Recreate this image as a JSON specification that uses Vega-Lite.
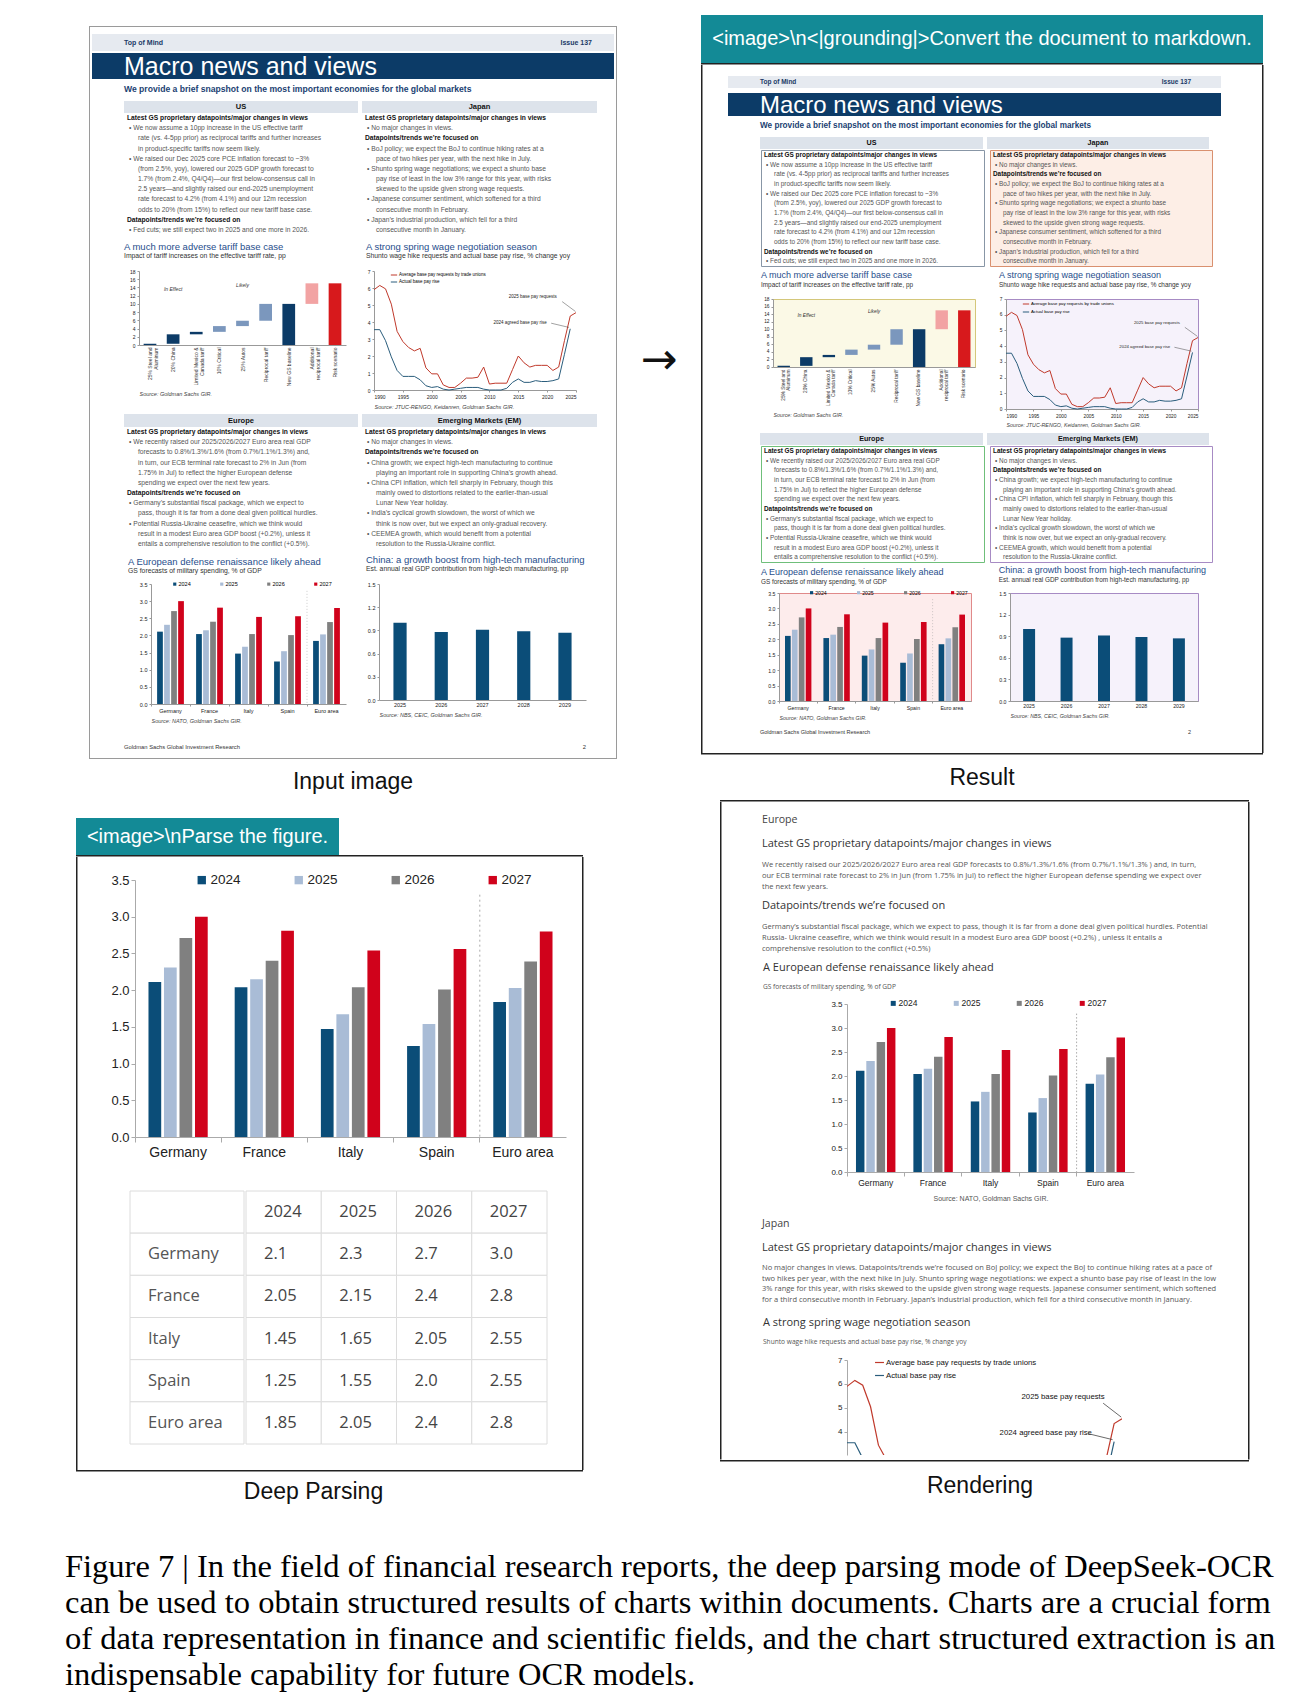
{
"$schema": "https://vega.github.io/schema/vega-lite/v6.json",
"background": "white",
"padding": {"left": 65, "top": 15, "right": 0, "bottom": 0},
"config": {
  "view": {"stroke": null},
  "font": "Liberation Sans",
  "axis": {"grid": false, "labelFont": "Liberation Sans", "titleFont": "Liberation Sans", "domainColor": "#999", "tickColor": "#999", "labelColor": "#222"},
  "legend": {"labelFont": "Liberation Sans", "padding": 0},
  "title": {"font": "Liberation Sans", "subtitleFont": "Liberation Sans"},
  "text": {"font": "Liberation Sans"}
},
"datasets": {
  "defense": [
    {"country":"Germany","year":"2024","value":2.11},{"country":"Germany","year":"2025","value":2.31},{"country":"Germany","year":"2026","value":2.71},{"country":"Germany","year":"2027","value":3.0},
    {"country":"France","year":"2024","value":2.04},{"country":"France","year":"2025","value":2.15},{"country":"France","year":"2026","value":2.4},{"country":"France","year":"2027","value":2.81},
    {"country":"Italy","year":"2024","value":1.47},{"country":"Italy","year":"2025","value":1.67},{"country":"Italy","year":"2026","value":2.04},{"country":"Italy","year":"2027","value":2.54},
    {"country":"Spain","year":"2024","value":1.24},{"country":"Spain","year":"2025","value":1.54},{"country":"Spain","year":"2026","value":2.01},{"country":"Spain","year":"2027","value":2.56},
    {"country":"Euro area","year":"2024","value":1.84},{"country":"Euro area","year":"2025","value":2.03},{"country":"Euro area","year":"2026","value":2.39},{"country":"Euro area","year":"2027","value":2.8}
  ],
  "table": [
    {"row":"hdr","col":"2024","cell":"2024"},{"row":"hdr","col":"2025","cell":"2025"},{"row":"hdr","col":"2026","cell":"2026"},{"row":"hdr","col":"2027","cell":"2027"},
    {"row":"Germany","col":"2024","cell":"2.1"},{"row":"Germany","col":"2025","cell":"2.3"},{"row":"Germany","col":"2026","cell":"2.7"},{"row":"Germany","col":"2027","cell":"3.0"},
    {"row":"France","col":"2024","cell":"2.05"},{"row":"France","col":"2025","cell":"2.15"},{"row":"France","col":"2026","cell":"2.4"},{"row":"France","col":"2027","cell":"2.8"},
    {"row":"Italy","col":"2024","cell":"1.45"},{"row":"Italy","col":"2025","cell":"1.65"},{"row":"Italy","col":"2026","cell":"2.05"},{"row":"Italy","col":"2027","cell":"2.55"},
    {"row":"Spain","col":"2024","cell":"1.25"},{"row":"Spain","col":"2025","cell":"1.55"},{"row":"Spain","col":"2026","cell":"2.0"},{"row":"Spain","col":"2027","cell":"2.55"},
    {"row":"Euro area","col":"2024","cell":"1.85"},{"row":"Euro area","col":"2025","cell":"2.05"},{"row":"Euro area","col":"2026","cell":"2.4"},{"row":"Euro area","col":"2027","cell":"2.8"}
  ],
  "tableLabels": [
    {"row":"hdr","name":""},{"row":"Germany","name":"Germany"},{"row":"France","name":"France"},{"row":"Italy","name":"Italy"},{"row":"Spain","name":"Spain"},{"row":"Euro area","name":"Euro area"}
  ],
  "tariff": [
    {"cat":"25% Steel and|Aluminum","lo":0,"hi":0.3,"kind":"in effect"},
    {"cat":"20% China","lo":0.3,"hi":2.6,"kind":"in effect"},
    {"cat":"Limited Mexico &|Canada tariff","lo":2.6,"hi":3.2,"kind":"in effect"},
    {"cat":"10% Critical","lo":3.2,"hi":4.6,"kind":"likely"},
    {"cat":"25% Autos","lo":4.6,"hi":5.9,"kind":"likely"},
    {"cat":"Reciprocal tariff","lo":5.9,"hi":10,"kind":"likely"},
    {"cat":"New GS baseline","lo":0,"hi":10,"kind":"baseline"},
    {"cat":"Additional|reciprocal tariff","lo":10,"hi":15,"kind":"additional"},
    {"cat":"Risk scenario","lo":0,"hi":15,"kind":"risk"}
  ],
  "tariffNotes": [{"cat":"20% China","v":13.6,"label":"In Effect"},{"cat":"25% Autos","v":14.6,"label":"Likely"}],
  "wage": [
    {"series":"Average base pay requests by trade unions","year":1990,"value":5.9},{"series":"Average base pay requests by trade unions","year":1991,"value":6.15},{"series":"Average base pay requests by trade unions","year":1992,"value":5.95},{"series":"Average base pay requests by trade unions","year":1993,"value":5.05},{"series":"Average base pay requests by trade unions","year":1994,"value":3.45},{"series":"Average base pay requests by trade unions","year":1995,"value":2.85},{"series":"Average base pay requests by trade unions","year":1996,"value":2.5},{"series":"Average base pay requests by trade unions","year":1997,"value":2.3},{"series":"Average base pay requests by trade unions","year":1998,"value":2.45},{"series":"Average base pay requests by trade unions","year":1999,"value":1.3},{"series":"Average base pay requests by trade unions","year":2000,"value":0.95},{"series":"Average base pay requests by trade unions","year":2001,"value":0.95},{"series":"Average base pay requests by trade unions","year":2002,"value":0.3},{"series":"Average base pay requests by trade unions","year":2003,"value":0.15},{"series":"Average base pay requests by trade unions","year":2004,"value":0.15},{"series":"Average base pay requests by trade unions","year":2005,"value":0.4},{"series":"Average base pay requests by trade unions","year":2006,"value":0.7},{"series":"Average base pay requests by trade unions","year":2007,"value":0.7},{"series":"Average base pay requests by trade unions","year":2008,"value":0.75},{"series":"Average base pay requests by trade unions","year":2009,"value":1.35},{"series":"Average base pay requests by trade unions","year":2010,"value":0.35},{"series":"Average base pay requests by trade unions","year":2011,"value":0.4},{"series":"Average base pay requests by trade unions","year":2012,"value":0.4},{"series":"Average base pay requests by trade unions","year":2013,"value":0.4},{"series":"Average base pay requests by trade unions","year":2014,"value":1.2},{"series":"Average base pay requests by trade unions","year":2015,"value":2.0},{"series":"Average base pay requests by trade unions","year":2016,"value":1.6},{"series":"Average base pay requests by trade unions","year":2017,"value":1.35},{"series":"Average base pay requests by trade unions","year":2018,"value":1.45},{"series":"Average base pay requests by trade unions","year":2019,"value":1.45},{"series":"Average base pay requests by trade unions","year":2020,"value":1.45},{"series":"Average base pay requests by trade unions","year":2021,"value":1.15},{"series":"Average base pay requests by trade unions","year":2022,"value":1.35},{"series":"Average base pay requests by trade unions","year":2023,"value":2.9},{"series":"Average base pay requests by trade unions","year":2024,"value":4.35},{"series":"Average base pay requests by trade unions","year":2025,"value":4.55},
    {"series":"Actual base pay rise","year":1990,"value":3.55},{"series":"Actual base pay rise","year":1991,"value":3.55},{"series":"Actual base pay rise","year":1992,"value":2.9},{"series":"Actual base pay rise","year":1993,"value":1.95},{"series":"Actual base pay rise","year":1994,"value":1.15},{"series":"Actual base pay rise","year":1995,"value":0.8},{"series":"Actual base pay rise","year":1996,"value":0.8},{"series":"Actual base pay rise","year":1997,"value":0.8},{"series":"Actual base pay rise","year":1998,"value":0.6},{"series":"Actual base pay rise","year":1999,"value":0.25},{"series":"Actual base pay rise","year":2000,"value":0.15},{"series":"Actual base pay rise","year":2001,"value":0.2},{"series":"Actual base pay rise","year":2002,"value":0.05},{"series":"Actual base pay rise","year":2003,"value":0.0},{"series":"Actual base pay rise","year":2004,"value":0.05},{"series":"Actual base pay rise","year":2005,"value":0.1},{"series":"Actual base pay rise","year":2006,"value":0.15},{"series":"Actual base pay rise","year":2007,"value":0.15},{"series":"Actual base pay rise","year":2008,"value":0.15},{"series":"Actual base pay rise","year":2009,"value":0.05},{"series":"Actual base pay rise","year":2010,"value":0.0},{"series":"Actual base pay rise","year":2011,"value":0.0},{"series":"Actual base pay rise","year":2012,"value":0.0},{"series":"Actual base pay rise","year":2013,"value":0.1},{"series":"Actual base pay rise","year":2014,"value":0.45},{"series":"Actual base pay rise","year":2015,"value":0.65},{"series":"Actual base pay rise","year":2016,"value":0.45},{"series":"Actual base pay rise","year":2017,"value":0.45},{"series":"Actual base pay rise","year":2018,"value":0.55},{"series":"Actual base pay rise","year":2019,"value":0.5},{"series":"Actual base pay rise","year":2020,"value":0.5},{"series":"Actual base pay rise","year":2021,"value":0.55},{"series":"Actual base pay rise","year":2022,"value":0.65},{"series":"Actual base pay rise","year":2023,"value":2.1},{"series":"Actual base pay rise","year":2024,"value":3.6}
  ],
  "wageNotes": [{"year":2017.5,"value":5.45,"label":"2025 base pay requests"},{"year":2015.3,"value":3.95,"label":"2024 agreed base pay rise"}],
  "wagePtr": [{"x1":2022.6,"y1":5.2,"x2":2024.9,"y2":4.62},{"x1":2020.7,"y1":3.93,"x2":2023.8,"y2":3.68}],
  "china": [{"year":"2025","value":1.0},{"year":"2026","value":0.88},{"year":"2027","value":0.91},{"year":"2028","value":0.89},{"year":"2029","value":0.87}],
  "docText": [
    {"sec":"US","line":1,"kind":"h","text":"Latest GS proprietary datapoints/major changes in views"},
    {"sec":"US","line":2,"kind":"b","text":"•  We now assume a 10pp increase in the US effective tariff"},
    {"sec":"US","line":3,"kind":"c","text":"rate (vs. 4-5pp prior) as reciprocal tariffs and further increases"},
    {"sec":"US","line":4,"kind":"c","text":"in product-specific tariffs now seem likely."},
    {"sec":"US","line":5,"kind":"b","text":"•  We raised our Dec 2025 core PCE inflation forecast to ~3%"},
    {"sec":"US","line":6,"kind":"c","text":"(from 2.5%, yoy), lowered our 2025 GDP growth forecast to"},
    {"sec":"US","line":7,"kind":"c","text":"1.7% (from 2.4%, Q4/Q4)—our first below-consensus call in"},
    {"sec":"US","line":8,"kind":"c","text":"2.5 years—and slightly raised our end-2025 unemployment"},
    {"sec":"US","line":9,"kind":"c","text":"rate forecast to 4.2% (from 4.1%) and our 12m recession"},
    {"sec":"US","line":10,"kind":"c","text":"odds to 20% (from 15%) to reflect our new tariff base case."},
    {"sec":"US","line":11,"kind":"h","text":"Datapoints/trends we’re focused on"},
    {"sec":"US","line":12,"kind":"b","text":"•  Fed cuts; we still expect two in 2025 and one more in 2026."},
    {"sec":"Japan","line":1,"kind":"h","text":"Latest GS proprietary datapoints/major changes in views"},
    {"sec":"Japan","line":2,"kind":"b","text":"•  No major changes in views."},
    {"sec":"Japan","line":3,"kind":"h","text":"Datapoints/trends we’re focused on"},
    {"sec":"Japan","line":4,"kind":"b","text":"•  BoJ policy; we expect the BoJ to continue hiking rates at a"},
    {"sec":"Japan","line":5,"kind":"c","text":"pace of two hikes per year, with the next hike in July."},
    {"sec":"Japan","line":6,"kind":"b","text":"•  Shunto spring wage negotiations; we expect a shunto base"},
    {"sec":"Japan","line":7,"kind":"c","text":"pay rise of least in the low 3% range for this year, with risks"},
    {"sec":"Japan","line":8,"kind":"c","text":"skewed to the upside given strong wage requests."},
    {"sec":"Japan","line":9,"kind":"b","text":"•  Japanese consumer sentiment, which softened for a third"},
    {"sec":"Japan","line":10,"kind":"c","text":"consecutive month in February."},
    {"sec":"Japan","line":11,"kind":"b","text":"•  Japan’s industrial production, which fell for a third"},
    {"sec":"Japan","line":12,"kind":"c","text":"consecutive month in January."},
    {"sec":"Europe","line":1,"kind":"h","text":"Latest GS proprietary datapoints/major changes in views"},
    {"sec":"Europe","line":2,"kind":"b","text":"•  We recently raised our 2025/2026/2027 Euro area real GDP"},
    {"sec":"Europe","line":3,"kind":"c","text":"forecasts to 0.8%/1.3%/1.6% (from 0.7%/1.1%/1.3%) and,"},
    {"sec":"Europe","line":4,"kind":"c","text":"in turn, our ECB terminal rate forecast to 2% in Jun (from"},
    {"sec":"Europe","line":5,"kind":"c","text":"1.75% in Jul) to reflect the higher European defense"},
    {"sec":"Europe","line":6,"kind":"c","text":"spending we expect over the next few years."},
    {"sec":"Europe","line":7,"kind":"h","text":"Datapoints/trends we’re focused on"},
    {"sec":"Europe","line":8,"kind":"b","text":"•  Germany’s substantial fiscal package, which we expect to"},
    {"sec":"Europe","line":9,"kind":"c","text":"pass, though it is far from a done deal given political hurdles."},
    {"sec":"Europe","line":10,"kind":"b","text":"•  Potential Russia-Ukraine ceasefire, which we think would"},
    {"sec":"Europe","line":11,"kind":"c","text":"result in a modest Euro area GDP boost (+0.2%), unless it"},
    {"sec":"Europe","line":12,"kind":"c","text":"entails a comprehensive resolution to the conflict (+0.5%)."},
    {"sec":"EM","line":1,"kind":"h","text":"Latest GS proprietary datapoints/major changes in views"},
    {"sec":"EM","line":2,"kind":"b","text":"•  No major changes in views."},
    {"sec":"EM","line":3,"kind":"h","text":"Datapoints/trends we’re focused on"},
    {"sec":"EM","line":4,"kind":"b","text":"•  China growth; we expect high-tech manufacturing to continue"},
    {"sec":"EM","line":5,"kind":"c","text":"playing an important role in supporting China’s growth ahead."},
    {"sec":"EM","line":6,"kind":"b","text":"•  China CPI inflation, which fell sharply in February, though this"},
    {"sec":"EM","line":7,"kind":"c","text":"mainly owed to distortions related to the earlier-than-usual"},
    {"sec":"EM","line":8,"kind":"c","text":"Lunar New Year holiday."},
    {"sec":"EM","line":9,"kind":"b","text":"•  India’s cyclical growth slowdown, the worst of which we"},
    {"sec":"EM","line":10,"kind":"c","text":"think is now over, but we expect an only-gradual recovery."},
    {"sec":"EM","line":11,"kind":"b","text":"•  CEEMEA growth, which would benefit from a potential"},
    {"sec":"EM","line":12,"kind":"c","text":"resolution to the Russia-Ukraine conflict."}
  ],
  "renderText": [
    {"block":"eu1","line":1,"text":"We recently raised our 2025/2026/2027 Euro area real GDP forecasts to 0.8%/1.3%/1.6% (from 0.7%/1.1%/1.3% ) and, in turn,"},
    {"block":"eu1","line":2,"text":"our ECB terminal rate forecast to 2% in Jun (from 1.75% in Jul) to reflect the higher European defense spending we expect over"},
    {"block":"eu1","line":3,"text":"the next few years."},
    {"block":"eu2","line":1,"text":"Germany’s substantial fiscal package, which we expect to pass, though it is far from a done deal given political hurdles. Potential"},
    {"block":"eu2","line":2,"text":"Russia- Ukraine ceasefire, which we think would result in a modest Euro area GDP boost (+0.2%) , unless it entails a"},
    {"block":"eu2","line":3,"text":"comprehensive resolution to the conflict (+0.5%)"},
    {"block":"jp","line":1,"text":"No major changes in views. Datapoints/trends we’re focused on BoJ policy; we expect the BoJ to continue hiking rates at a pace of"},
    {"block":"jp","line":2,"text":"two hikes per year, with the next hike in July. Shunto spring wage negotiations: we expect a shunto base pay rise of least in the low"},
    {"block":"jp","line":3,"text":"3% range for this year, with risks skewed to the upside given strong wage requests. Japanese consumer sentiment, which softened"},
    {"block":"jp","line":4,"text":"for a third consecutive month in February. Japan’s industrial production, which fell for a third consecutive month in January."}
  ],
  "caption": [
    {"line":1,"text":"Figure 7 | In the field of financial research reports, the deep parsing mode of DeepSeek-OCR"},
    {"line":2,"text":"can be used to obtain structured results of charts within documents. Charts are a crucial form"},
    {"line":3,"text":"of data representation in finance and scientific fields, and the chart structured extraction is an"},
    {"line":4,"text":"indispensable capability for future OCR models."}
  ]
},
"spacing": 0,
"resolve": {"scale": {"color": "independent", "xOffset": "independent"}},
"vconcat": [
 {"spacing": 0, "resolve": {"scale": {"color": "independent", "xOffset": "independent"}}, "hconcat": [
  {"width": 24, "height": 1, "data": {"values": []}, "mark": "text", "encoding": {}},
  {"spacing": 0, "resolve": {"scale": {"color": "independent", "xOffset": "independent"}}, "vconcat": [
    {"width": 1, "height": 11, "data": {"values": []}, "mark": "text", "encoding": {}},
    {"width": 528, "height": 1, "view": {"fill": "#9a9a9a", "stroke": null}, "data": {"values": []}, "mark": "text", "encoding": {}},
    {"spacing": 0, "resolve": {"scale": {"color": "independent", "xOffset": "independent"}}, "hconcat": [
     {"width": 1, "height": 731, "view": {"fill": "#9a9a9a", "stroke": null}, "data": {"values": []}, "mark": "text", "encoding": {}},
     {"width": 2, "height": 1, "data": {"values": []}, "mark": "text", "encoding": {}},
     {"spacing": 0, "resolve": {"scale": {"color": "independent", "xOffset": "independent"}}, "vconcat": [
      {"width": 1, "height": 7, "data": {"values": []}, "mark": "text", "encoding": {}},
      {"width": 522, "height": 17, "view": {"fill": "#e6eaf0", "stroke": null}, "layer": [
        {"data": {"values": [{"t": "Top of Mind"}]}, "mark": {"type": "text", "align": "left", "fontSize": 7, "fontWeight": "bold", "color": "#1b3a66", "dx": 32}, "encoding": {"x": {"datum": 0, "type": "quantitative", "scale": {"domain": [0, 1]}, "axis": null}, "text": {"field": "t"}}},
        {"data": {"values": [{"t": "Issue 137"}]}, "mark": {"type": "text", "align": "right", "fontSize": 7, "fontWeight": "bold", "color": "#1b3a66", "dx": -22}, "encoding": {"x": {"datum": 1, "type": "quantitative", "axis": null}, "text": {"field": "t"}}}
      ]},
      {"width": 1, "height": 2, "data": {"values": []}, "mark": "text", "encoding": {}},
      {"width": 522, "height": 26, "view": {"fill": "#0c3b67", "stroke": null}, "data": {"values": [{"t": "Macro news and views"}]}, "mark": {"type": "text", "align": "left", "fontSize": 25, "color": "white", "dx": 32, "dy": 1}, "encoding": {"x": {"datum": 0, "type": "quantitative", "scale": {"domain": [0, 1]}, "axis": null}, "text": {"field": "t"}}},
      {"width": 522, "height": 18, "data": {"values": [{"t": "We provide a brief snapshot on the most important economies for the global markets"}]}, "mark": {"type": "text", "align": "left", "fontSize": 8.6, "fontWeight": "bold", "color": "#1b3f72", "dx": 32}, "encoding": {"x": {"datum": 0, "type": "quantitative", "scale": {"domain": [0, 1]}, "axis": null}, "text": {"field": "t"}}},
      {"width": 1, "height": 3, "data": {"values": []}, "mark": "text", "encoding": {}},
      {"spacing": 0, "hconcat": [
        {"width": 32, "height": 1, "data": {"values": []}, "mark": "text", "encoding": {}},
        {"width": 234, "height": 12, "view": {"fill": "#dde3eb", "stroke": null}, "data": {"values": [{"t": "US"}]}, "mark": {"type": "text", "fontSize": 7.5, "fontWeight": "bold", "color": "#111"}, "encoding": {"text": {"field": "t"}}},
        {"width": 4, "height": 1, "data": {"values": []}, "mark": "text", "encoding": {}},
        {"width": 235, "height": 12, "view": {"fill": "#dde3eb", "stroke": null}, "data": {"values": [{"t": "Japan"}]}, "mark": {"type": "text", "fontSize": 7.5, "fontWeight": "bold", "color": "#111"}, "encoding": {"text": {"field": "t"}}}
      ]},
      {"spacing": 0, "hconcat": [
        {"width": 32, "height": 1, "data": {"values": []}, "mark": "text", "encoding": {}},
        {"width": 234, "height": 122, "data": {"name": "docText"}, "transform": [{"filter": "datum.sec === 'US'"}],
         "encoding": {"x": {"datum": 0, "type": "quantitative", "scale": {"domain": [0, 1]}, "axis": null}, "y": {"field": "line", "type": "ordinal", "axis": null}, "text": {"field": "text"}},
         "layer": [
          {"transform": [{"filter": "datum.kind === 'h'"}], "mark": {"type": "text", "align": "left", "fontSize": 6.7, "fontWeight": "bold", "color": "#111", "dx": 3}},
          {"transform": [{"filter": "datum.kind === 'b'"}], "mark": {"type": "text", "align": "left", "fontSize": 6.7, "color": "#555", "dx": 5}},
          {"transform": [{"filter": "datum.kind === 'c'"}], "mark": {"type": "text", "align": "left", "fontSize": 6.7, "color": "#555", "dx": 14}}
         ]},
        {"width": 4, "height": 1, "data": {"values": []}, "mark": "text", "encoding": {}},
        {"width": 235, "height": 122, "data": {"name": "docText"}, "transform": [{"filter": "datum.sec === 'Japan'"}],
         "encoding": {"x": {"datum": 0, "type": "quantitative", "scale": {"domain": [0, 1]}, "axis": null}, "y": {"field": "line", "type": "ordinal", "axis": null}, "text": {"field": "text"}},
         "layer": [
          {"transform": [{"filter": "datum.kind === 'h'"}], "mark": {"type": "text", "align": "left", "fontSize": 6.7, "fontWeight": "bold", "color": "#111", "dx": 3}},
          {"transform": [{"filter": "datum.kind === 'b'"}], "mark": {"type": "text", "align": "left", "fontSize": 6.7, "color": "#555", "dx": 5}},
          {"transform": [{"filter": "datum.kind === 'c'"}], "mark": {"type": "text", "align": "left", "fontSize": 6.7, "color": "#555", "dx": 14}}
         ]}
      ]},
      {"width": 1, "height": 6, "data": {"values": []}, "mark": "text", "encoding": {}},
      {"spacing": 0, "resolve": {"scale": {"color": "independent", "xOffset": "independent"}}, "hconcat": [
        {"width": 32, "height": 1, "data": {"values": []}, "mark": "text", "encoding": {}},
        {"width": 207, "height": 74,
         "title": {"text": "A much more adverse tariff base case", "subtitle": "Impact of tariff increases on the effective tariff rate, pp", "anchor": "start", "fontSize": 9.5, "fontWeight": "normal", "color": "#1f4e8c", "subtitleFontSize": 6.8, "subtitleColor": "#333", "subtitlePadding": 2, "offset": 9},
         "layer": [
          {"data": {"name": "tariff"}, "mark": {"type": "bar"}, "encoding": {
            "x": {"field": "cat", "type": "nominal", "sort": ["25% Steel and|Aluminum","20% China","Limited Mexico &|Canada tariff","10% Critical","25% Autos","Reciprocal tariff","New GS baseline","Additional|reciprocal tariff","Risk scenario"], "scale": {"paddingInner": 0.45, "paddingOuter": 0.2}, "axis": {"title": "Source: Goldman Sachs GIR.", "titleAnchor": "start", "titleFontSize": 5.5, "titleFontStyle": "italic", "titleFontWeight": "normal", "titleColor": "#444", "titlePadding": 6, "labelAngle": -90, "labelFontSize": 5, "labelExpr": "split(datum.label, '|')", "labelLineHeight": 6, "ticks": false, "labelColor": "#333"}},
            "y": {"field": "lo", "type": "quantitative", "scale": {"domain": [0, 18]}, "axis": {"title": null, "values": [0,2,4,6,8,10,12,14,16,18], "labelFontSize": 5, "minExtent": 15, "tickSize": 2}},
            "y2": {"field": "hi"},
            "color": {"field": "kind", "type": "nominal", "scale": {"domain": ["in effect","likely","baseline","additional","risk"], "range": ["#0c3b67","#7b97bd","#0c3b67","#f2a3a3","#d7191c"]}, "legend": null}
          }},
          {"data": {"name": "tariffNotes"}, "mark": {"type": "text", "fontSize": 5, "fontStyle": "italic", "color": "#333"}, "encoding": {
            "x": {"field": "cat", "type": "nominal", "sort": ["25% Steel and|Aluminum","20% China","Limited Mexico &|Canada tariff","10% Critical","25% Autos","Reciprocal tariff","New GS baseline","Additional|reciprocal tariff","Risk scenario"], "axis": {"title": "Source: Goldman Sachs GIR.", "titleAnchor": "start", "titleFontSize": 5.5, "titleFontStyle": "italic", "titleFontWeight": "normal", "titleColor": "#444", "titlePadding": 6, "labelAngle": -90, "labelFontSize": 5, "labelExpr": "split(datum.label, '|')", "labelLineHeight": 6, "ticks": false, "labelColor": "#333"}},
            "y": {"field": "v", "type": "quantitative", "axis": {"title": null, "values": [0,2,4,6,8,10,12,14,16,18], "labelFontSize": 5, "minExtent": 15, "tickSize": 2}},
            "text": {"field": "label"}}}
         ]},
        {"width": 20, "height": 1, "data": {"values": []}, "mark": "text", "encoding": {}},
        {"width": 202, "height": 119,
         "title": {"text": "A strong spring wage negotiation season", "subtitle": "Shunto wage hike requests and actual base pay rise, % change yoy", "anchor": "start", "fontSize": 9.5, "fontWeight": "normal", "color": "#1f4e8c", "subtitleFontSize": 6.8, "subtitleColor": "#333", "subtitlePadding": 2, "offset": 9},
         "layer": [
          {"data": {"name": "wage"}, "mark": {"type": "line", "strokeWidth": 1}, "encoding": {
            "x": {"field": "year", "type": "quantitative", "scale": {"domain": [1990, 2025], "nice": false, "zero": false}, "axis": {"title": "Source: JTUC-RENGO, Keidanren, Goldman Sachs GIR.", "titleAnchor": "start", "titleFontSize": 5.5, "titleFontStyle": "italic", "titleFontWeight": "normal", "titleColor": "#444", "titlePadding": 5, "values": [1990,1995,2000,2005,2010,2015,2020,2025], "format": "d", "labelFontSize": 5, "tickSize": 2}},
            "y": {"field": "value", "type": "quantitative", "scale": {"domain": [0, 7]}, "axis": {"title": null, "values": [0,1,2,3,4,5,6,7], "labelFontSize": 5, "minExtent": 8, "tickSize": 2}},
            "color": {"field": "series", "type": "nominal", "scale": {"domain": ["Average base pay requests by trade unions","Actual base pay rise"], "range": ["#c0392b","#2a5d7c"]}, "legend": {"orient": "none", "legendX": 16, "legendY": 0, "title": null, "symbolType": "stroke", "symbolSize": 40, "symbolStrokeWidth": 1, "labelFontSize": 4.5, "rowPadding": 1, "labelOffset": 1}}
          }},
          {"data": {"name": "wageNotes"}, "mark": {"type": "text", "fontSize": 4.5, "color": "#222"}, "encoding": {
            "x": {"field": "year", "type": "quantitative", "axis": {"title": "Source: JTUC-RENGO, Keidanren, Goldman Sachs GIR.", "titleAnchor": "start", "titleFontSize": 5.5, "titleFontStyle": "italic", "titleFontWeight": "normal", "titleColor": "#444", "titlePadding": 5, "values": [1990,1995,2000,2005,2010,2015,2020,2025], "format": "d", "labelFontSize": 5, "tickSize": 2}},
            "y": {"field": "value", "type": "quantitative", "axis": {"title": null, "values": [0,1,2,3,4,5,6,7], "labelFontSize": 5, "minExtent": 8, "tickSize": 2}},
            "text": {"field": "label"}}},
          {"data": {"name": "wagePtr"}, "mark": {"type": "rule", "strokeWidth": 0.5, "color": "#444"}, "encoding": {
            "x": {"field": "x1", "type": "quantitative", "axis": {"title": "Source: JTUC-RENGO, Keidanren, Goldman Sachs GIR.", "titleAnchor": "start", "titleFontSize": 5.5, "titleFontStyle": "italic", "titleFontWeight": "normal", "titleColor": "#444", "titlePadding": 5, "values": [1990,1995,2000,2005,2010,2015,2020,2025], "format": "d", "labelFontSize": 5, "tickSize": 2}},
            "y": {"field": "y1", "type": "quantitative", "axis": {"title": null, "values": [0,1,2,3,4,5,6,7], "labelFontSize": 5, "minExtent": 8, "tickSize": 2}},
            "x2": {"field": "x2"}, "y2": {"field": "y2"}}}
         ]}
      ]},
      {"width": 1, "height": 4, "data": {"values": []}, "mark": "text", "encoding": {}},
      {"spacing": 0, "hconcat": [
        {"width": 32, "height": 1, "data": {"values": []}, "mark": "text", "encoding": {}},
        {"width": 234, "height": 13, "view": {"fill": "#dde3eb", "stroke": null}, "data": {"values": [{"t": "Europe"}]}, "mark": {"type": "text", "fontSize": 7.5, "fontWeight": "bold", "color": "#111"}, "encoding": {"text": {"field": "t"}}},
        {"width": 4, "height": 1, "data": {"values": []}, "mark": "text", "encoding": {}},
        {"width": 235, "height": 13, "view": {"fill": "#dde3eb", "stroke": null}, "data": {"values": [{"t": "Emerging Markets (EM)"}]}, "mark": {"type": "text", "fontSize": 7.5, "fontWeight": "bold", "color": "#111"}, "encoding": {"text": {"field": "t"}}}
      ]},
      {"spacing": 0, "hconcat": [
        {"width": 32, "height": 1, "data": {"values": []}, "mark": "text", "encoding": {}},
        {"width": 234, "height": 122, "data": {"name": "docText"}, "transform": [{"filter": "datum.sec === 'Europe'"}],
         "encoding": {"x": {"datum": 0, "type": "quantitative", "scale": {"domain": [0, 1]}, "axis": null}, "y": {"field": "line", "type": "ordinal", "axis": null}, "text": {"field": "text"}},
         "layer": [
          {"transform": [{"filter": "datum.kind === 'h'"}], "mark": {"type": "text", "align": "left", "fontSize": 6.7, "fontWeight": "bold", "color": "#111", "dx": 3}},
          {"transform": [{"filter": "datum.kind === 'b'"}], "mark": {"type": "text", "align": "left", "fontSize": 6.7, "color": "#555", "dx": 5}},
          {"transform": [{"filter": "datum.kind === 'c'"}], "mark": {"type": "text", "align": "left", "fontSize": 6.7, "color": "#555", "dx": 14}}
         ]},
        {"width": 4, "height": 1, "data": {"values": []}, "mark": "text", "encoding": {}},
        {"width": 235, "height": 122, "data": {"name": "docText"}, "transform": [{"filter": "datum.sec === 'EM'"}],
         "encoding": {"x": {"datum": 0, "type": "quantitative", "scale": {"domain": [0, 1]}, "axis": null}, "y": {"field": "line", "type": "ordinal", "axis": null}, "text": {"field": "text"}},
         "layer": [
          {"transform": [{"filter": "datum.kind === 'h'"}], "mark": {"type": "text", "align": "left", "fontSize": 6.7, "fontWeight": "bold", "color": "#111", "dx": 3}},
          {"transform": [{"filter": "datum.kind === 'b'"}], "mark": {"type": "text", "align": "left", "fontSize": 6.7, "color": "#555", "dx": 5}},
          {"transform": [{"filter": "datum.kind === 'c'"}], "mark": {"type": "text", "align": "left", "fontSize": 6.7, "color": "#555", "dx": 14}}
         ]}
      ]},
      {"width": 1, "height": 5, "data": {"values": []}, "mark": "text", "encoding": {}},
      {"spacing": 0, "resolve": {"scale": {"color": "independent", "xOffset": "independent"}}, "hconcat": [
        {"width": 36, "height": 1, "data": {"values": []}, "mark": "text", "encoding": {}},
        {"width": 195, "height": 120,
         "title": {"text": "A European defense renaissance likely ahead", "subtitle": "GS forecasts of military spending, % of GDP", "anchor": "start", "fontSize": 9.5, "fontWeight": "normal", "color": "#1f4e8c", "subtitleFontSize": 6.8, "subtitleColor": "#333", "subtitlePadding": 2, "offset": 6},
         "layer": [
          {"data": {"name": "defense"}, "mark": {"type": "bar"}, "encoding": {
            "x": {"field": "country", "type": "nominal", "sort": ["Germany","France","Italy","Spain","Euro area"], "scale": {"paddingInner": 0, "paddingOuter": 0}, "axis": {"title": "Source: NATO, Goldman Sachs GIR.", "titleAnchor": "start", "titleFontSize": 5.5, "titleFontStyle": "italic", "titleFontWeight": "normal", "titleColor": "#444", "titlePadding": 5, "labelAngle": 0, "labelFontSize": 5.5, "bandPosition": 0, "tickSize": 2}},
            "xOffset": {"field": "year", "type": "nominal", "scale": {"paddingInner": 0.18, "paddingOuter": 0.87}},
            "y": {"field": "value", "type": "quantitative", "scale": {"domain": [0, 3.5]}, "axis": {"title": null, "values": [0,0.5,1,1.5,2,2.5,3,3.5], "format": ".1f", "labelFontSize": 5.5, "minExtent": 23, "tickSize": 2}},
            "color": {"field": "year", "type": "nominal", "scale": {"domain": ["2024","2025","2026","2027"], "range": ["#0b4d78","#a9bcd6","#808080","#d0021b"]}, "legend": {"orient": "none", "legendX": 21, "legendY": -3, "direction": "horizontal", "title": null, "symbolType": "square", "symbolSize": 10, "labelFontSize": 5.5, "columnPadding": 28, "labelOffset": 1}}
          }},
          {"data": {"values": [{}]}, "mark": {"type": "rule", "strokeDash": [1, 2], "color": "#aaa", "strokeWidth": 0.6}, "encoding": {
            "x": {"datum": "Euro area", "type": "nominal", "bandPosition": 0, "axis": {"title": "Source: NATO, Goldman Sachs GIR.", "titleAnchor": "start", "titleFontSize": 5.5, "titleFontStyle": "italic", "titleFontWeight": "normal", "titleColor": "#444", "titlePadding": 5, "labelAngle": 0, "labelFontSize": 5.5, "bandPosition": 0, "tickSize": 2}},
            "y": {"datum": 3.3, "type": "quantitative", "axis": {"title": null, "values": [0,0.5,1,1.5,2,2.5,3,3.5], "format": ".1f", "labelFontSize": 5.5, "minExtent": 23, "tickSize": 2}},
            "y2": {"datum": 0}}}
         ]},
        {"width": 20, "height": 1, "data": {"values": []}, "mark": "text", "encoding": {}},
        {"width": 207, "height": 116,
         "title": {"text": "China: a growth boost from high-tech manufacturing", "subtitle": "Est. annual real GDP contribution from high-tech manufacturing, pp", "anchor": "start", "fontSize": 9.5, "fontWeight": "normal", "color": "#1f4e8c", "subtitleFontSize": 6.8, "subtitleColor": "#333", "subtitlePadding": 2, "offset": 9},
         "data": {"name": "china"},
         "mark": {"type": "bar", "color": "#0b4d78"},
         "encoding": {
           "x": {"field": "year", "type": "nominal", "scale": {"paddingInner": 0.68, "paddingOuter": 0.35}, "axis": {"title": "Source: NBS, CEIC, Goldman Sachs GIR.", "titleAnchor": "start", "titleFontSize": 5.5, "titleFontStyle": "italic", "titleFontWeight": "normal", "titleColor": "#444", "titlePadding": 5, "labelAngle": 0, "labelFontSize": 5.5, "ticks": false}},
           "y": {"field": "value", "type": "quantitative", "scale": {"domain": [0, 1.5]}, "axis": {"title": null, "values": [0,0.3,0.6,0.9,1.2,1.5], "format": ".1f", "labelFontSize": 5.5, "minExtent": 13, "tickSize": 2}}
         }}
      ]},
      {"width": 1, "height": 15, "data": {"values": []}, "mark": "text", "encoding": {}},
      {"width": 522, "height": 16, "layer": [
        {"data": {"values": [{"t": "Goldman Sachs Global Investment Research"}]}, "mark": {"type": "text", "align": "left", "fontSize": 5.8, "color": "#333", "dx": 32}, "encoding": {"x": {"datum": 0, "type": "quantitative", "scale": {"domain": [0, 1]}, "axis": null}, "text": {"field": "t"}}},
        {"data": {"values": [{"t": "2"}]}, "mark": {"type": "text", "align": "right", "fontSize": 5.8, "color": "#333", "dx": -28}, "encoding": {"x": {"datum": 1, "type": "quantitative", "axis": null}, "text": {"field": "t"}}}
      ]}
     ]},
     {"width": 2, "height": 1, "data": {"values": []}, "mark": "text", "encoding": {}},
     {"width": 1, "height": 731, "view": {"fill": "#9a9a9a", "stroke": null}, "data": {"values": []}, "mark": "text", "encoding": {}}
    ]},
    {"width": 528, "height": 1, "view": {"fill": "#9a9a9a", "stroke": null}, "data": {"values": []}, "mark": "text", "encoding": {}},
    {"width": 1, "height": 11, "data": {"values": []}, "mark": "text", "encoding": {}},
    {"width": 528, "height": 24, "data": {"values": [{"t": "Input image"}]}, "mark": {"type": "text", "fontSize": 23, "color": "#111"}, "encoding": {"text": {"field": "t"}}}
  ]},
  {"width": 84, "height": 692, "data": {"values": [{"t": "→"}]}, "mark": {"type": "text", "font": "DejaVu Sans", "fontSize": 44, "color": "#111"}, "encoding": {"text": {"field": "t"}}},
  {"spacing": 0, "resolve": {"scale": {"color": "independent", "xOffset": "independent"}}, "vconcat": [
    {"width": 562, "height": 48, "view": {"fill": "#138a96", "stroke": null}, "data": {"values": [{"t": "<image>\\n<|grounding|>Convert the document to markdown."}]}, "mark": {"type": "text", "fontSize": 20, "color": "white"}, "encoding": {"text": {"field": "t"}}},
    {"width": 562, "height": 1.5, "view": {"fill": "#222", "stroke": null}, "data": {"values": []}, "mark": "text", "encoding": {}},
    {"spacing": 0, "resolve": {"scale": {"color": "independent", "xOffset": "independent"}}, "hconcat": [
      {"width": 1.5, "height": 688, "view": {"fill": "#222", "stroke": null}, "data": {"values": []}, "mark": "text", "encoding": {}},
      {"width": 24.5, "height": 1, "data": {"values": []}, "mark": "text", "encoding": {}},
      {"spacing": 0, "resolve": {"scale": {"color": "independent", "xOffset": "independent"}}, "vconcat": [
        {"width": 1, "height": 10.5, "data": {"values": []}, "mark": "text", "encoding": {}},
        {"width": 493, "height": 12, "view": {"fill": "#e6eaf0", "stroke": null}, "layer": [
          {"data": {"values": [{"t": "Top of Mind"}]}, "mark": {"type": "text", "align": "left", "fontSize": 6.5, "fontWeight": "bold", "color": "#1b3a66", "dx": 32}, "encoding": {"x": {"datum": 0, "type": "quantitative", "scale": {"domain": [0, 1]}, "axis": null}, "text": {"field": "t"}}},
          {"data": {"values": [{"t": "Issue 137"}]}, "mark": {"type": "text", "align": "right", "fontSize": 6.5, "fontWeight": "bold", "color": "#1b3a66", "dx": -30}, "encoding": {"x": {"datum": 1, "type": "quantitative", "axis": null}, "text": {"field": "t"}}}
        ]},
        {"width": 1, "height": 5, "data": {"values": []}, "mark": "text", "encoding": {}},
        {"width": 493, "height": 23, "view": {"fill": "#0c3b67", "stroke": null}, "data": {"values": [{"t": "Macro news and views"}]}, "mark": {"type": "text", "align": "left", "fontSize": 24, "color": "white", "dx": 32, "dy": 1}, "encoding": {"x": {"datum": 0, "type": "quantitative", "scale": {"domain": [0, 1]}, "axis": null}, "text": {"field": "t"}}},
        {"width": 493, "height": 16, "data": {"values": [{"t": "We provide a brief snapshot on the most important economies for the global markets"}]}, "mark": {"type": "text", "align": "left", "fontSize": 8.2, "fontWeight": "bold", "color": "#1b3f72", "dx": 32}, "encoding": {"x": {"datum": 0, "type": "quantitative", "scale": {"domain": [0, 1]}, "axis": null}, "text": {"field": "t"}}},
        {"width": 1, "height": 3, "data": {"values": []}, "mark": "text", "encoding": {}},
        {"spacing": 0, "hconcat": [
          {"width": 32, "height": 1, "data": {"values": []}, "mark": "text", "encoding": {}},
          {"width": 223, "height": 12, "view": {"fill": "#dde3eb", "stroke": null}, "data": {"values": [{"t": "US"}]}, "mark": {"type": "text", "fontSize": 7.2, "fontWeight": "bold", "color": "#111"}, "encoding": {"text": {"field": "t"}}},
          {"width": 4, "height": 1, "data": {"values": []}, "mark": "text", "encoding": {}},
          {"width": 222, "height": 12, "view": {"fill": "#dde3eb", "stroke": null}, "data": {"values": [{"t": "Japan"}]}, "mark": {"type": "text", "fontSize": 7.2, "fontWeight": "bold", "color": "#111"}, "encoding": {"text": {"field": "t"}}}
        ]},
        {"spacing": 0, "hconcat": [
          {"width": 32, "height": 1, "data": {"values": []}, "mark": "text", "encoding": {}},
          {"width": 223, "height": 116, "view": {"stroke": "#8896a6", "fill": null}, "data": {"name": "docText"}, "transform": [{"filter": "datum.sec === 'US'"}],
           "encoding": {"x": {"datum": 0, "type": "quantitative", "scale": {"domain": [0, 1]}, "axis": null}, "y": {"field": "line", "type": "ordinal", "axis": null}, "text": {"field": "text"}},
           "layer": [
            {"transform": [{"filter": "datum.kind === 'h'"}], "mark": {"type": "text", "align": "left", "fontSize": 6.4, "fontWeight": "bold", "color": "#111", "dx": 3}},
            {"transform": [{"filter": "datum.kind === 'b'"}], "mark": {"type": "text", "align": "left", "fontSize": 6.4, "color": "#555", "dx": 5}},
            {"transform": [{"filter": "datum.kind === 'c'"}], "mark": {"type": "text", "align": "left", "fontSize": 6.4, "color": "#555", "dx": 13}}
           ]},
          {"width": 4, "height": 1, "data": {"values": []}, "mark": "text", "encoding": {}},
          {"width": 222, "height": 116, "view": {"stroke": "#d9906f", "fill": "#fdeee6"}, "data": {"name": "docText"}, "transform": [{"filter": "datum.sec === 'Japan'"}],
           "encoding": {"x": {"datum": 0, "type": "quantitative", "scale": {"domain": [0, 1]}, "axis": null}, "y": {"field": "line", "type": "ordinal", "axis": null}, "text": {"field": "text"}},
           "layer": [
            {"transform": [{"filter": "datum.kind === 'h'"}], "mark": {"type": "text", "align": "left", "fontSize": 6.4, "fontWeight": "bold", "color": "#111", "dx": 3}},
            {"transform": [{"filter": "datum.kind === 'b'"}], "mark": {"type": "text", "align": "left", "fontSize": 6.4, "color": "#555", "dx": 5}},
            {"transform": [{"filter": "datum.kind === 'c'"}], "mark": {"type": "text", "align": "left", "fontSize": 6.4, "color": "#555", "dx": 13}}
           ]}
        ]},
        {"width": 1, "height": 3, "data": {"values": []}, "mark": "text", "encoding": {}},
        {"spacing": 0, "resolve": {"scale": {"color": "independent", "xOffset": "independent"}}, "hconcat": [
          {"width": 32, "height": 1, "data": {"values": []}, "mark": "text", "encoding": {}},
          {"width": 202, "height": 68, "view": {"fill": "#fbf9e6", "stroke": "#d4c77a"},
           "title": {"text": "A much more adverse tariff base case", "subtitle": "Impact of tariff increases on the effective tariff rate, pp", "anchor": "start", "fontSize": 9, "fontWeight": "normal", "color": "#1f4e8c", "subtitleFontSize": 6.4, "subtitleColor": "#333", "subtitlePadding": 2, "offset": 8},
           "layer": [
            {"data": {"name": "tariff"}, "mark": {"type": "bar"}, "encoding": {
              "x": {"field": "cat", "type": "nominal", "sort": ["25% Steel and|Aluminum","20% China","Limited Mexico &|Canada tariff","10% Critical","25% Autos","Reciprocal tariff","New GS baseline","Additional|reciprocal tariff","Risk scenario"], "scale": {"paddingInner": 0.45, "paddingOuter": 0.2}, "axis": {"title": "Source: Goldman Sachs GIR.", "titleAnchor": "start", "titleFontSize": 5.3, "titleFontStyle": "italic", "titleFontWeight": "normal", "titleColor": "#444", "titlePadding": 6, "labelAngle": -90, "labelFontSize": 4.8, "labelExpr": "split(datum.label, '|')", "labelLineHeight": 5.5, "ticks": false, "labelColor": "#333"}},
              "y": {"field": "lo", "type": "quantitative", "scale": {"domain": [0, 18]}, "axis": {"title": null, "values": [0,2,4,6,8,10,12,14,16,18], "labelFontSize": 4.8, "minExtent": 12, "tickSize": 2}},
              "y2": {"field": "hi"},
              "color": {"field": "kind", "type": "nominal", "scale": {"domain": ["in effect","likely","baseline","additional","risk"], "range": ["#0c3b67","#7b97bd","#0c3b67","#f2a3a3","#d7191c"]}, "legend": null}
            }},
            {"data": {"name": "tariffNotes"}, "mark": {"type": "text", "fontSize": 4.8, "fontStyle": "italic", "color": "#333"}, "encoding": {
              "x": {"field": "cat", "type": "nominal", "sort": ["25% Steel and|Aluminum","20% China","Limited Mexico &|Canada tariff","10% Critical","25% Autos","Reciprocal tariff","New GS baseline","Additional|reciprocal tariff","Risk scenario"], "axis": {"title": "Source: Goldman Sachs GIR.", "titleAnchor": "start", "titleFontSize": 5.3, "titleFontStyle": "italic", "titleFontWeight": "normal", "titleColor": "#444", "titlePadding": 6, "labelAngle": -90, "labelFontSize": 4.8, "labelExpr": "split(datum.label, '|')", "labelLineHeight": 5.5, "ticks": false, "labelColor": "#333"}},
              "y": {"field": "v", "type": "quantitative", "axis": {"title": null, "values": [0,2,4,6,8,10,12,14,16,18], "labelFontSize": 4.8, "minExtent": 12, "tickSize": 2}},
              "text": {"field": "label"}}}
           ]},
          {"width": 22, "height": 1, "data": {"values": []}, "mark": "text", "encoding": {}},
          {"width": 192, "height": 110, "view": {"fill": "#f6f2fb", "stroke": "#a78bc4"},
           "title": {"text": "A strong spring wage negotiation season", "subtitle": "Shunto wage hike requests and actual base pay rise, % change yoy", "anchor": "start", "fontSize": 9, "fontWeight": "normal", "color": "#1f4e8c", "subtitleFontSize": 6.4, "subtitleColor": "#333", "subtitlePadding": 2, "offset": 8},
           "layer": [
            {"data": {"name": "wage"}, "mark": {"type": "line", "strokeWidth": 1}, "encoding": {
              "x": {"field": "year", "type": "quantitative", "scale": {"domain": [1990, 2025], "nice": false, "zero": false}, "axis": {"title": "Source: JTUC-RENGO, Keidanren, Goldman Sachs GIR.", "titleAnchor": "start", "titleFontSize": 5.3, "titleFontStyle": "italic", "titleFontWeight": "normal", "titleColor": "#444", "titlePadding": 5, "values": [1990,1995,2000,2005,2010,2015,2020,2025], "format": "d", "labelFontSize": 4.8, "tickSize": 2}},
              "y": {"field": "value", "type": "quantitative", "scale": {"domain": [0, 7]}, "axis": {"title": null, "values": [0,1,2,3,4,5,6,7], "labelFontSize": 4.8, "minExtent": 7, "tickSize": 2}},
              "color": {"field": "series", "type": "nominal", "scale": {"domain": ["Average base pay requests by trade unions","Actual base pay rise"], "range": ["#c0392b","#2a5d7c"]}, "legend": {"orient": "none", "legendX": 16, "legendY": 1, "title": null, "symbolType": "stroke", "symbolSize": 40, "symbolStrokeWidth": 1, "labelFontSize": 4.3, "rowPadding": 1, "labelOffset": 1}}
            }},
            {"data": {"name": "wageNotes"}, "mark": {"type": "text", "fontSize": 4.3, "color": "#222"}, "encoding": {
              "x": {"field": "year", "type": "quantitative", "axis": {"title": "Source: JTUC-RENGO, Keidanren, Goldman Sachs GIR.", "titleAnchor": "start", "titleFontSize": 5.3, "titleFontStyle": "italic", "titleFontWeight": "normal", "titleColor": "#444", "titlePadding": 5, "values": [1990,1995,2000,2005,2010,2015,2020,2025], "format": "d", "labelFontSize": 4.8, "tickSize": 2}},
              "y": {"field": "value", "type": "quantitative", "axis": {"title": null, "values": [0,1,2,3,4,5,6,7], "labelFontSize": 4.8, "minExtent": 7, "tickSize": 2}},
              "text": {"field": "label"}}},
            {"data": {"name": "wagePtr"}, "mark": {"type": "rule", "strokeWidth": 0.5, "color": "#444"}, "encoding": {
              "x": {"field": "x1", "type": "quantitative", "axis": {"title": "Source: JTUC-RENGO, Keidanren, Goldman Sachs GIR.", "titleAnchor": "start", "titleFontSize": 5.3, "titleFontStyle": "italic", "titleFontWeight": "normal", "titleColor": "#444", "titlePadding": 5, "values": [1990,1995,2000,2005,2010,2015,2020,2025], "format": "d", "labelFontSize": 4.8, "tickSize": 2}},
              "y": {"field": "y1", "type": "quantitative", "axis": {"title": null, "values": [0,1,2,3,4,5,6,7], "labelFontSize": 4.8, "minExtent": 7, "tickSize": 2}},
              "x2": {"field": "x2"}, "y2": {"field": "y2"}}}
           ]}
        ]},
        {"width": 1, "height": 4, "data": {"values": []}, "mark": "text", "encoding": {}},
        {"spacing": 0, "hconcat": [
          {"width": 32, "height": 1, "data": {"values": []}, "mark": "text", "encoding": {}},
          {"width": 223, "height": 12, "view": {"fill": "#dde3eb", "stroke": null}, "data": {"values": [{"t": "Europe"}]}, "mark": {"type": "text", "fontSize": 7.2, "fontWeight": "bold", "color": "#111"}, "encoding": {"text": {"field": "t"}}},
          {"width": 4, "height": 1, "data": {"values": []}, "mark": "text", "encoding": {}},
          {"width": 222, "height": 12, "view": {"fill": "#dde3eb", "stroke": null}, "data": {"values": [{"t": "Emerging Markets (EM)"}]}, "mark": {"type": "text", "fontSize": 7.2, "fontWeight": "bold", "color": "#111"}, "encoding": {"text": {"field": "t"}}}
        ]},
        {"spacing": 0, "hconcat": [
          {"width": 32, "height": 1, "data": {"values": []}, "mark": "text", "encoding": {}},
          {"width": 223, "height": 116, "view": {"stroke": "#6fbf7a", "fill": null}, "data": {"name": "docText"}, "transform": [{"filter": "datum.sec === 'Europe'"}],
           "encoding": {"x": {"datum": 0, "type": "quantitative", "scale": {"domain": [0, 1]}, "axis": null}, "y": {"field": "line", "type": "ordinal", "axis": null}, "text": {"field": "text"}},
           "layer": [
            {"transform": [{"filter": "datum.kind === 'h'"}], "mark": {"type": "text", "align": "left", "fontSize": 6.4, "fontWeight": "bold", "color": "#111", "dx": 3}},
            {"transform": [{"filter": "datum.kind === 'b'"}], "mark": {"type": "text", "align": "left", "fontSize": 6.4, "color": "#555", "dx": 5}},
            {"transform": [{"filter": "datum.kind === 'c'"}], "mark": {"type": "text", "align": "left", "fontSize": 6.4, "color": "#555", "dx": 13}}
           ]},
          {"width": 4, "height": 1, "data": {"values": []}, "mark": "text", "encoding": {}},
          {"width": 222, "height": 116, "view": {"stroke": "#a78bc4", "fill": null}, "data": {"name": "docText"}, "transform": [{"filter": "datum.sec === 'EM'"}],
           "encoding": {"x": {"datum": 0, "type": "quantitative", "scale": {"domain": [0, 1]}, "axis": null}, "y": {"field": "line", "type": "ordinal", "axis": null}, "text": {"field": "text"}},
           "layer": [
            {"transform": [{"filter": "datum.kind === 'h'"}], "mark": {"type": "text", "align": "left", "fontSize": 6.4, "fontWeight": "bold", "color": "#111", "dx": 3}},
            {"transform": [{"filter": "datum.kind === 'b'"}], "mark": {"type": "text", "align": "left", "fontSize": 6.4, "color": "#555", "dx": 5}},
            {"transform": [{"filter": "datum.kind === 'c'"}], "mark": {"type": "text", "align": "left", "fontSize": 6.4, "color": "#555", "dx": 13}}
           ]}
        ]},
        {"width": 1, "height": 2, "data": {"values": []}, "mark": "text", "encoding": {}},
        {"spacing": 0, "resolve": {"scale": {"color": "independent", "xOffset": "independent"}}, "hconcat": [
          {"width": 32, "height": 1, "data": {"values": []}, "mark": "text", "encoding": {}},
          {"width": 192, "height": 108, "view": {"fill": "#fdecec", "stroke": "#e08a8a"},
           "title": {"text": "A European defense renaissance likely ahead", "subtitle": "GS forecasts of military spending, % of GDP", "anchor": "start", "fontSize": 9, "fontWeight": "normal", "color": "#1f4e8c", "subtitleFontSize": 6.4, "subtitleColor": "#333", "subtitlePadding": 2, "offset": 5},
           "layer": [
            {"data": {"name": "defense"}, "mark": {"type": "bar"}, "encoding": {
              "x": {"field": "country", "type": "nominal", "sort": ["Germany","France","Italy","Spain","Euro area"], "scale": {"paddingInner": 0, "paddingOuter": 0}, "axis": {"title": "Source: NATO, Goldman Sachs GIR.", "titleAnchor": "start", "titleFontSize": 5.3, "titleFontStyle": "italic", "titleFontWeight": "normal", "titleColor": "#444", "titlePadding": 5, "labelAngle": 0, "labelFontSize": 5.2, "bandPosition": 0, "tickSize": 2}},
              "xOffset": {"field": "year", "type": "nominal", "scale": {"paddingInner": 0.18, "paddingOuter": 0.87}},
              "y": {"field": "value", "type": "quantitative", "scale": {"domain": [0, 3.5]}, "axis": {"title": null, "values": [0,0.5,1,1.5,2,2.5,3,3.5], "format": ".1f", "labelFontSize": 5.2, "minExtent": 18, "tickSize": 2}},
              "color": {"field": "year", "type": "nominal", "scale": {"domain": ["2024","2025","2026","2027"], "range": ["#0b4d78","#a9bcd6","#808080","#d0021b"]}, "legend": {"orient": "none", "legendX": 30, "legendY": -3, "direction": "horizontal", "title": null, "symbolType": "square", "symbolSize": 10, "labelFontSize": 5.2, "columnPadding": 29, "labelOffset": 1}}
            }},
            {"data": {"values": [{}]}, "mark": {"type": "rule", "strokeDash": [1, 2], "color": "#aaa", "strokeWidth": 0.6}, "encoding": {
              "x": {"datum": "Euro area", "type": "nominal", "bandPosition": 0, "axis": {"title": "Source: NATO, Goldman Sachs GIR.", "titleAnchor": "start", "titleFontSize": 5.3, "titleFontStyle": "italic", "titleFontWeight": "normal", "titleColor": "#444", "titlePadding": 5, "labelAngle": 0, "labelFontSize": 5.2, "bandPosition": 0, "tickSize": 2}},
              "y": {"datum": 3.3, "type": "quantitative", "axis": {"title": null, "values": [0,0.5,1,1.5,2,2.5,3,3.5], "format": ".1f", "labelFontSize": 5.2, "minExtent": 18, "tickSize": 2}},
              "y2": {"datum": 0}}}
           ]},
          {"width": 26, "height": 1, "data": {"values": []}, "mark": "text", "encoding": {}},
          {"width": 188, "height": 108, "view": {"fill": "#f6f2fb", "stroke": "#a78bc4"},
           "title": {"text": "China: a growth boost from high-tech manufacturing", "subtitle": "Est. annual real GDP contribution from high-tech manufacturing, pp", "anchor": "start", "fontSize": 9, "fontWeight": "normal", "color": "#1f4e8c", "subtitleFontSize": 6.4, "subtitleColor": "#333", "subtitlePadding": 2, "offset": 8},
           "data": {"name": "china"},
           "mark": {"type": "bar", "color": "#0b4d78"},
           "encoding": {
             "x": {"field": "year", "type": "nominal", "scale": {"paddingInner": 0.68, "paddingOuter": 0.35}, "axis": {"title": "Source: NBS, CEIC, Goldman Sachs GIR.", "titleAnchor": "start", "titleFontSize": 5.3, "titleFontStyle": "italic", "titleFontWeight": "normal", "titleColor": "#444", "titlePadding": 5, "labelAngle": 0, "labelFontSize": 5.2, "ticks": false}},
             "y": {"field": "value", "type": "quantitative", "scale": {"domain": [0, 1.5]}, "axis": {"title": null, "values": [0,0.3,0.6,0.9,1.2,1.5], "format": ".1f", "labelFontSize": 5.2, "minExtent": 8, "tickSize": 2}}
           }}
        ]},
        {"width": 1, "height": 4, "data": {"values": []}, "mark": "text", "encoding": {}},
        {"width": 493, "height": 14, "layer": [
          {"data": {"values": [{"t": "Goldman Sachs Global Investment Research"}]}, "mark": {"type": "text", "align": "left", "fontSize": 5.5, "color": "#333", "dx": 32}, "encoding": {"x": {"datum": 0, "type": "quantitative", "scale": {"domain": [0, 1]}, "axis": null}, "text": {"field": "t"}}},
          {"data": {"values": [{"t": "2"}]}, "mark": {"type": "text", "align": "right", "fontSize": 5.5, "color": "#333", "dx": -30}, "encoding": {"x": {"datum": 1, "type": "quantitative", "axis": null}, "text": {"field": "t"}}}
        ]}
      ]},
      {"width": 40.5, "height": 1, "data": {"values": []}, "mark": "text", "encoding": {}},
      {"width": 1.5, "height": 688, "view": {"fill": "#222", "stroke": null}, "data": {"values": []}, "mark": "text", "encoding": {}}
    ]},
    {"width": 562, "height": 1.5, "view": {"fill": "#222", "stroke": null}, "data": {"values": []}, "mark": "text", "encoding": {}},
    {"width": 1, "height": 11, "data": {"values": []}, "mark": "text", "encoding": {}},
    {"width": 562, "height": 24, "data": {"values": [{"t": "Result"}]}, "mark": {"type": "text", "fontSize": 23, "color": "#111"}, "encoding": {"text": {"field": "t"}}}
  ]}
 ]},
 {"width": 1, "height": 6, "data": {"values": []}, "mark": "text", "encoding": {}},
 {"spacing": 0, "resolve": {"scale": {"color": "independent", "xOffset": "independent"}}, "hconcat": [
  {"width": 11, "height": 1, "data": {"values": []}, "mark": "text", "encoding": {}},
  {"spacing": 0, "resolve": {"scale": {"color": "independent", "xOffset": "independent"}}, "vconcat": [
    {"width": 1, "height": 18, "data": {"values": []}, "mark": "text", "encoding": {}},
    {"width": 263, "height": 37, "view": {"fill": "#138a96", "stroke": null}, "data": {"values": [{"t": "<image>\\nParse the figure."}]}, "mark": {"type": "text", "fontSize": 20, "color": "white"}, "encoding": {"text": {"field": "t"}}},
    {"width": 507, "height": 1.5, "view": {"fill": "#222", "stroke": null}, "data": {"values": []}, "mark": "text", "encoding": {}},
    {"spacing": 0, "resolve": {"scale": {"color": "independent", "xOffset": "independent"}}, "hconcat": [
      {"width": 1.5, "height": 613, "view": {"fill": "#222", "stroke": null}, "data": {"values": []}, "mark": "text", "encoding": {}},
      {"spacing": 0, "resolve": {"scale": {"color": "independent", "xOffset": "independent"}}, "vconcat": [
        {"width": 504, "height": 15.5, "data": {"values": []}, "mark": "text", "encoding": {}},
        {"spacing": 0, "resolve": {"scale": {"color": "independent", "xOffset": "independent"}}, "hconcat": [
          {"width": 1, "height": 1, "data": {"values": []}, "mark": "text", "encoding": {}},
          {"width": 431, "height": 257,
           "layer": [
            {"data": {"name": "defense"}, "mark": {"type": "bar"}, "encoding": {
              "x": {"field": "country", "type": "nominal", "sort": ["Germany","France","Italy","Spain","Euro area"], "scale": {"paddingInner": 0, "paddingOuter": 0}, "axis": {"title": null, "labelAngle": 0, "labelFontSize": 14, "labelColor": "#222", "bandPosition": 0, "tickSize": 5, "tickColor": "#aaa", "domainColor": "#aaa", "labelPadding": 3}},
              "xOffset": {"field": "year", "type": "nominal", "scale": {"paddingInner": 0.18, "paddingOuter": 0.87}},
              "y": {"field": "value", "type": "quantitative", "scale": {"domain": [0, 3.5]}, "axis": {"title": null, "values": [0,0.5,1,1.5,2,2.5,3,3.5], "format": ".1f", "labelFontSize": 13, "labelColor": "#222", "minExtent": 55.5, "tickSize": 4, "tickColor": "#aaa", "domainColor": "#aaa"}},
              "color": {"field": "year", "type": "nominal", "scale": {"domain": ["2024","2025","2026","2027"], "range": ["#0b4d78","#a9bcd6","#808080","#d0021b"]}, "legend": {"orient": "none", "legendX": 60, "legendY": -7, "direction": "horizontal", "title": null, "symbolType": "square", "symbolSize": 70, "labelFontSize": 13.5, "labelColor": "#222", "columnPadding": 51, "labelOffset": 2}}
            }},
            {"data": {"values": [{}]}, "mark": {"type": "rule", "strokeDash": [2, 3], "color": "#aaa"}, "encoding": {
              "x": {"datum": "Euro area", "type": "nominal", "bandPosition": 0, "axis": {"title": null, "labelAngle": 0, "labelFontSize": 14, "labelColor": "#222", "bandPosition": 0, "tickSize": 5, "tickColor": "#aaa", "domainColor": "#aaa", "labelPadding": 3}},
              "y": {"datum": 3.3, "type": "quantitative", "axis": {"title": null, "values": [0,0.5,1,1.5,2,2.5,3,3.5], "format": ".1f", "labelFontSize": 13, "labelColor": "#222", "minExtent": 55.5, "tickSize": 4, "tickColor": "#aaa", "domainColor": "#aaa"}},
              "y2": {"datum": 0}}}
           ]}
        ]},
        {"width": 1, "height": 31, "data": {"values": []}, "mark": "text", "encoding": {}},
        {"spacing": 0, "hconcat": [
          {"width": 50.5, "height": 1, "data": {"values": []}, "mark": "text", "encoding": {}},
          {"width": 114, "height": 253, "data": {"name": "tableLabels"},
           "encoding": {"y": {"field": "row", "type": "nominal", "sort": ["hdr","Germany","France","Italy","Spain","Euro area"], "scale": {"paddingInner": 0, "paddingOuter": 0}, "axis": null}},
           "layer": [
            {"mark": {"type": "rect", "fill": "white", "stroke": "#dcdcdc", "strokeWidth": 1}},
            {"mark": {"type": "text", "align": "left", "font": "Open Sans", "fontSize": 16.5, "color": "#555", "dx": 18}, "encoding": {"x": {"datum": 0, "type": "quantitative", "scale": {"domain": [0, 1]}, "axis": null}, "text": {"field": "name"}}}
           ]},
          {"width": 301, "height": 253, "data": {"name": "table"},
           "encoding": {
             "y": {"field": "row", "type": "nominal", "sort": ["hdr","Germany","France","Italy","Spain","Euro area"], "scale": {"paddingInner": 0, "paddingOuter": 0}, "axis": null},
             "x": {"field": "col", "type": "ordinal", "scale": {"paddingInner": 0, "paddingOuter": 0}, "axis": null}
           },
           "layer": [
            {"mark": {"type": "rect", "fill": "white", "stroke": "#dcdcdc", "strokeWidth": 1}},
            {"mark": {"type": "text", "align": "left", "font": "Open Sans", "fontSize": 16.5, "color": "#444", "dx": 18}, "encoding": {"x": {"field": "col", "type": "ordinal", "bandPosition": 0}, "text": {"field": "cell"}}}
           ]}
        ]}
      ]},
      {"width": 1.5, "height": 613, "view": {"fill": "#222", "stroke": null}, "data": {"values": []}, "mark": "text", "encoding": {}}
    ]},
    {"width": 507, "height": 1.5, "view": {"fill": "#222", "stroke": null}, "data": {"values": []}, "mark": "text", "encoding": {}},
    {"width": 1, "height": 7, "data": {"values": []}, "mark": "text", "encoding": {}},
    {"width": 475, "height": 26, "data": {"values": [{"t": "Deep Parsing"}]}, "mark": {"type": "text", "fontSize": 23, "color": "#111"}, "encoding": {"text": {"field": "t"}}}
  ]},
  {"width": 136, "height": 1, "data": {"values": []}, "mark": "text", "encoding": {}},
  {"spacing": 0, "resolve": {"scale": {"color": "independent", "xOffset": "independent"}}, "vconcat": [
    {"width": 529, "height": 1.5, "view": {"fill": "#222", "stroke": null}, "data": {"values": []}, "mark": "text", "encoding": {}},
    {"spacing": 0, "resolve": {"scale": {"color": "independent", "xOffset": "independent"}}, "hconcat": [
      {"width": 1.5, "height": 657.5, "view": {"fill": "#222", "stroke": null}, "data": {"values": []}, "mark": "text", "encoding": {}},
      {"width": 39.5, "height": 1, "data": {"values": []}, "mark": "text", "encoding": {}},
      {"spacing": 0, "resolve": {"scale": {"color": "independent", "xOffset": "independent"}}, "vconcat": [
        {"width": 486, "height": 12.5, "data": {"values": []}, "mark": "text", "encoding": {}},
        {"width": 436, "height": 33,
         "title": {"text": "Europe", "subtitle": "Latest GS proprietary datapoints/major changes in views", "anchor": "start", "font": "Open Sans", "subtitleFont": "Open Sans", "fontSize": 10.6, "fontWeight": "normal", "color": "#444", "subtitleFontSize": 11, "subtitleColor": "#333", "subtitlePadding": 12, "offset": 10},
         "data": {"name": "renderText"}, "transform": [{"filter": "datum.block === 'eu1'"}],
         "mark": {"type": "text", "align": "left", "font": "Open Sans", "fontSize": 7.5, "color": "#555"},
         "encoding": {"x": {"datum": 0, "type": "quantitative", "scale": {"domain": [0, 1]}, "axis": null}, "y": {"field": "line", "type": "ordinal", "axis": null}, "text": {"field": "text"}}},
        {"width": 1, "height": 8, "data": {"values": []}, "mark": "text", "encoding": {}},
        {"width": 436, "height": 33,
         "title": {"text": "Datapoints/trends we’re focused on", "anchor": "start", "font": "Open Sans", "fontSize": 11, "fontWeight": "normal", "color": "#333", "offset": 10},
         "data": {"name": "renderText"}, "transform": [{"filter": "datum.block === 'eu2'"}],
         "mark": {"type": "text", "align": "left", "font": "Open Sans", "fontSize": 7.5, "color": "#555"},
         "encoding": {"x": {"datum": 0, "type": "quantitative", "scale": {"domain": [0, 1]}, "axis": null}, "y": {"field": "line", "type": "ordinal", "axis": null}, "text": {"field": "text"}}},
        {"width": 1, "height": 8, "data": {"values": []}, "mark": "text", "encoding": {}},
        {"spacing": 0, "resolve": {"scale": {"color": "independent", "xOffset": "independent"}}, "hconcat": [
          {"width": 1, "height": 1, "data": {"values": []}, "mark": "text", "encoding": {}},
          {"width": 287, "height": 168,
           "title": {"text": "A European defense renaissance likely ahead", "subtitle": "GS forecasts of military spending, % of GDP", "anchor": "start", "font": "Open Sans", "subtitleFont": "Open Sans", "fontSize": 11, "fontWeight": "normal", "color": "#333", "subtitleFontSize": 6.6, "subtitleColor": "#555", "subtitlePadding": 11, "offset": 8},
           "layer": [
            {"data": {"name": "defense"}, "mark": {"type": "bar"}, "encoding": {
              "x": {"field": "country", "type": "nominal", "sort": ["Germany","France","Italy","Spain","Euro area"], "scale": {"paddingInner": 0, "paddingOuter": 0}, "axis": {"title": "Source: NATO, Goldman Sachs GIR.", "titleFontSize": 7, "titleFontWeight": "normal", "titleColor": "#555", "titlePadding": 8, "labelAngle": 0, "labelFontSize": 8.5, "labelColor": "#222", "bandPosition": 0, "tickSize": 4, "tickColor": "#aaa", "domainColor": "#aaa"}},
              "xOffset": {"field": "year", "type": "nominal", "scale": {"paddingInner": 0.18, "paddingOuter": 0.87}},
              "y": {"field": "value", "type": "quantitative", "scale": {"domain": [0, 3.5]}, "axis": {"title": null, "values": [0,0.5,1,1.5,2,2.5,3,3.5], "format": ".1f", "labelFontSize": 8, "labelColor": "#222", "minExtent": 84, "tickSize": 3, "tickColor": "#aaa", "domainColor": "#aaa"}},
              "color": {"field": "year", "type": "nominal", "scale": {"domain": ["2024","2025","2026","2027"], "range": ["#0b4d78","#a9bcd6","#808080","#d0021b"]}, "legend": {"orient": "none", "legendX": 42, "legendY": -5, "direction": "horizontal", "title": null, "symbolType": "square", "symbolSize": 25, "labelFontSize": 8.5, "labelColor": "#222", "columnPadding": 34, "labelOffset": 1}}
            }},
            {"data": {"values": [{}]}, "mark": {"type": "rule", "strokeDash": [1.5, 2], "color": "#aaa"}, "encoding": {
              "x": {"datum": "Euro area", "type": "nominal", "bandPosition": 0, "axis": {"title": "Source: NATO, Goldman Sachs GIR.", "titleFontSize": 7, "titleFontWeight": "normal", "titleColor": "#555", "titlePadding": 8, "labelAngle": 0, "labelFontSize": 8.5, "labelColor": "#222", "bandPosition": 0, "tickSize": 4, "tickColor": "#aaa", "domainColor": "#aaa"}},
              "y": {"datum": 3.3, "type": "quantitative", "axis": {"title": null, "values": [0,0.5,1,1.5,2,2.5,3,3.5], "format": ".1f", "labelFontSize": 8, "labelColor": "#222", "minExtent": 84, "tickSize": 3, "tickColor": "#aaa", "domainColor": "#aaa"}},
              "y2": {"datum": 0}}}
           ]}
        ]},
        {"width": 1, "height": 17, "data": {"values": []}, "mark": "text", "encoding": {}},
        {"width": 436, "height": 42,
         "title": {"text": "Japan", "subtitle": "Latest GS proprietary datapoints/major changes in views", "anchor": "start", "font": "Open Sans", "subtitleFont": "Open Sans", "fontSize": 10.6, "fontWeight": "normal", "color": "#444", "subtitleFontSize": 11, "subtitleColor": "#333", "subtitlePadding": 12, "offset": 10},
         "data": {"name": "renderText"}, "transform": [{"filter": "datum.block === 'jp'"}],
         "mark": {"type": "text", "align": "left", "font": "Open Sans", "fontSize": 7.5, "color": "#555"},
         "encoding": {"x": {"datum": 0, "type": "quantitative", "scale": {"domain": [0, 1]}, "axis": null}, "y": {"field": "line", "type": "ordinal", "axis": null}, "text": {"field": "text"}}},
        {"width": 1, "height": 12, "data": {"values": []}, "mark": "text", "encoding": {}},
        {"spacing": 0, "resolve": {"scale": {"color": "independent", "xOffset": "independent"}}, "hconcat": [
          {"width": 1, "height": 1, "data": {"values": []}, "mark": "text", "encoding": {}},
          {"width": 275, "height": 95,
           "title": {"text": "A strong spring wage negotiation season", "subtitle": "Shunto wage hike requests and actual base pay rise, % change yoy", "anchor": "start", "font": "Open Sans", "subtitleFont": "Open Sans", "fontSize": 11, "fontWeight": "normal", "color": "#333", "subtitleFontSize": 6.6, "subtitleColor": "#555", "subtitlePadding": 11, "offset": 10},
           "layer": [
            {"data": {"name": "wage"}, "mark": {"type": "line", "strokeWidth": 1.2, "clip": true}, "encoding": {
              "x": {"field": "year", "type": "quantitative", "scale": {"domain": [1990, 2025], "nice": false, "zero": false}, "axis": null},
              "y": {"field": "value", "type": "quantitative", "scale": {"domain": [3.04, 7], "nice": false, "zero": false}, "axis": {"title": null, "values": [4,5,6,7], "labelFontSize": 8, "labelColor": "#222", "minExtent": 84, "tickSize": 3, "tickColor": "#aaa", "domainColor": "#aaa"}},
              "color": {"field": "series", "type": "nominal", "scale": {"domain": ["Average base pay requests by trade unions","Actual base pay rise"], "range": ["#c0392b","#2a5d7c"]}, "legend": {"orient": "none", "legendX": 27, "legendY": -3, "title": null, "symbolType": "stroke", "symbolSize": 80, "symbolStrokeWidth": 1.2, "labelFontSize": 7.8, "labelColor": "#111", "rowPadding": 3, "labelOffset": 1}}
            }},
            {"data": {"name": "wageNotes"}, "mark": {"type": "text", "fontSize": 7.8, "color": "#111"}, "encoding": {
              "x": {"field": "year", "type": "quantitative", "axis": null},
              "y": {"field": "value", "type": "quantitative", "axis": {"title": null, "values": [4,5,6,7], "labelFontSize": 8, "labelColor": "#222", "minExtent": 84, "tickSize": 3, "tickColor": "#aaa", "domainColor": "#aaa"}},
              "text": {"field": "label"}}},
            {"data": {"name": "wagePtr"}, "mark": {"type": "rule", "strokeWidth": 0.8, "color": "#444"}, "encoding": {
              "x": {"field": "x1", "type": "quantitative", "axis": null},
              "y": {"field": "y1", "type": "quantitative", "axis": {"title": null, "values": [4,5,6,7], "labelFontSize": 8, "labelColor": "#222", "minExtent": 84, "tickSize": 3, "tickColor": "#aaa", "domainColor": "#aaa"}},
              "x2": {"field": "x2"}, "y2": {"field": "y2"}}}
           ]}
        ]}
      ]},
      {"width": 1.5, "height": 657.5, "view": {"fill": "#222", "stroke": null}, "data": {"values": []}, "mark": "text", "encoding": {}}
    ]},
    {"width": 529, "height": 1.5, "view": {"fill": "#222", "stroke": null}, "data": {"values": []}, "mark": "text", "encoding": {}},
    {"width": 1, "height": 11, "data": {"values": []}, "mark": "text", "encoding": {}},
    {"width": 520, "height": 26, "data": {"values": [{"t": "Rendering"}]}, "mark": {"type": "text", "fontSize": 23, "color": "#111"}, "encoding": {"text": {"field": "t"}}}
  ]}
 ]},
 {"width": 1, "height": 44, "data": {"values": []}, "mark": "text", "encoding": {}},
 {"width": 1230, "height": 144, "data": {"name": "caption"},
  "mark": {"type": "text", "align": "left", "font": "Liberation Serif", "fontSize": 32.5, "color": "#000"},
  "encoding": {"x": {"datum": 0, "type": "quantitative", "scale": {"domain": [0, 1]}, "axis": null}, "y": {"field": "line", "type": "ordinal", "axis": null}, "text": {"field": "text"}}}
]
}
